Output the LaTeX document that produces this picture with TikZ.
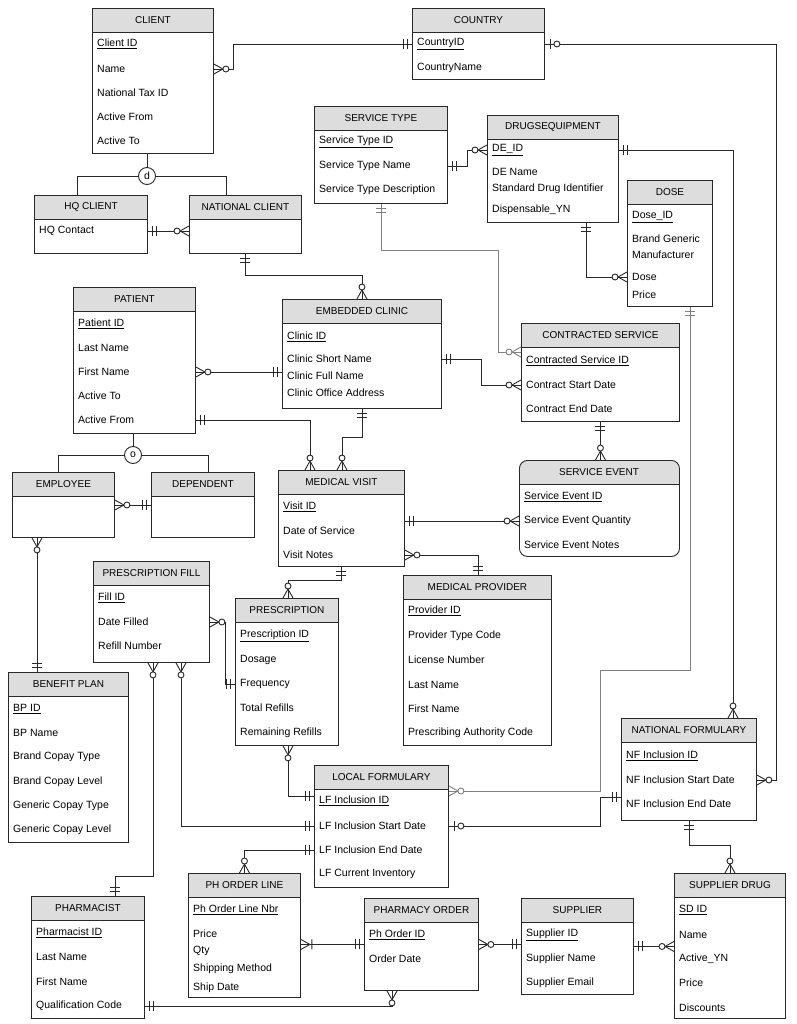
\documentclass[tikz,border=0pt]{standalone}
\usepackage{fontspec}
\setmainfont{Liberation Sans}
\usetikzlibrary{positioning,decorations.markings}
\definecolor{hdrgray}{RGB}{221,221,221}
\definecolor{linegray}{RGB}{40,40,40}

% crow's foot tips, drawn in a frame pointing away from the entity
\newcommand\tipOne{\draw (5pt,-5pt)--(5pt,5pt) (9pt,-5pt)--(9pt,5pt);}
\newcommand\tipZOne{\draw (6pt,-5pt)--(6pt,5pt); \draw[fill=white] (12pt,0) circle (3pt);}
\newcommand\tipZMany{\draw (0pt,-5pt)--(9pt,0pt)--(0pt,5pt); \draw[fill=white] (12pt,0) circle (3pt);}
\newcommand\tipMany{\draw (0pt,-5pt)--(9pt,0pt)--(0pt,5pt) (11pt,-5pt)--(11pt,5pt);}

\tikzset{
  ebody/.style={draw=linegray,line width=0.9pt,anchor=north west,inner sep=0pt},
  ehead/.style={draw=linegray,line width=0.9pt,fill=hdrgray,anchor=north,inner sep=0pt,
    minimum height=24pt,font=\fontsize{10}{12}\selectfont},
  att/.style={anchor=west,inner sep=0pt,font=\fontsize{10.5}{12}\selectfont},
  sub/.style={draw=linegray,line width=0.9pt,circle,fill=white,inner sep=1.5pt,
    minimum size=17pt,font=\fontsize{10.5}{12}\selectfont},
  rel/.style={draw=linegray,line width=0.9pt},
  tip start/.style={postaction={decorate,decoration={markings,mark=at position 0 with {#1}}}},
  tip end/.style={postaction={decorate,decoration={markings,mark=at position 1 with {\pgftransformxscale{-1}#1}}}},
}
% name, left, top, width, height, title
\newcommand\entity[6]{%
  \node[ebody,minimum width=#4pt,minimum height=#5pt] (#1) at (#2,#3) {};
  \node[ehead,minimum width=#4pt] (#1h) at (#1.north) {#6};
}
\newcommand\attr[4]{\node[att] (#1) at (#2,#3) {#4};}

\begin{document}
\begin{tikzpicture}[x=1pt,y=-1pt]
\useasboundingbox (0,0) rectangle (796,1024);

% entities
\entity{client}{92}{8}{121}{145}{CLIENT}
\attr{cl1}{97}{44}{\underline{Client ID}}
\attr{cl2}{97}{69}{Name}
\attr{cl3}{97}{93}{National Tax ID}
\attr{cl4}{97}{117}{Active From}
\attr{cl5}{97}{141}{Active To}

\entity{country}{412}{8}{132}{71}{COUNTRY}
\attr{co1}{417}{44}{\underline{CountryID}}
\attr{co2}{417}{68}{CountryName}

\entity{st}{314}{106}{133}{97}{SERVICE TYPE}
\attr{st1}{319}{142}{\underline{Service Type ID}}
\attr{st2}{319}{166}{Service Type Name}
\attr{st3}{319}{190}{Service Type Description}

\entity{de}{487}{115}{131}{107}{DRUGSEQUIPMENT}
\attr{de1}{492}{150}{\underline{DE\_ID}}
\attr{de2}{492}{172}{DE Name}
\attr{de3}{492}{189}{Standard Drug Identifier}
\attr{de4}{492}{210}{Dispensable\_YN}

\entity{dose}{627}{180}{85}{126}{DOSE}
\attr{do1}{632}{217}{\underline{Dose\_ID}}
\attr{do2}{632}{239}{Brand Generic}
\attr{do3}{632}{255}{Manufacturer}
\attr{do4}{632}{277}{Dose}
\attr{do5}{632}{295}{Price}

\entity{hq}{34}{195}{113}{58}{HQ CLIENT}
\attr{hq1}{39}{231}{HQ Contact}

\entity{nc}{189}{195}{112}{58}{NATIONAL CLIENT}

\entity{pat}{73}{287}{122}{146}{PATIENT}
\attr{pa1}{78}{324}{\underline{Patient ID}}
\attr{pa2}{78}{348}{Last Name}
\attr{pa3}{78}{372}{First Name}
\attr{pa4}{78}{396}{Active To}
\attr{pa5}{78}{420}{Active From}

\entity{ec}{282}{299}{159}{109}{EMBEDDED CLINIC}
\attr{ec1}{287}{337}{\underline{Clinic ID}}
\attr{ec2}{287}{359}{Clinic Short Name}
\attr{ec3}{287}{376}{Clinic Full Name}
\attr{ec4}{287}{393}{Clinic Office Address}

\entity{cs}{521}{323}{158}{98}{CONTRACTED SERVICE}
\attr{cs1}{526}{361}{\underline{Contracted Service ID}}
\attr{cs2}{526}{385}{Contract Start Date}
\attr{cs3}{526}{409}{Contract End Date}

% service event has rounded corners
\fill[hdrgray,rounded corners=8pt] (519,484) -- (519,460) -- (679,460) -- (679,484) [sharp corners] -- cycle;
\fill[hdrgray] (519,476) rectangle (679,484);
\node[ebody,minimum width=160pt,minimum height=96pt,rounded corners=8pt] (se) at (519,460) {};
\draw[rel] ([yshift=-24pt]se.north west) -- ([yshift=-24pt]se.north east);
\node[att,anchor=center,font=\fontsize{10}{12}\selectfont] (seh) at (599,472) {SERVICE EVENT};
\attr{se1}{524}{497}{\underline{Service Event ID}}
\attr{se2}{524}{521}{Service Event Quantity}
\attr{se3}{524}{545}{Service Event Notes}

\entity{emp}{12}{472}{102}{65}{EMPLOYEE}
\entity{dep}{151}{472}{103}{65}{DEPENDENT}

\entity{mv}{278}{470}{126}{96}{MEDICAL VISIT}
\attr{mv1}{283}{507}{\underline{Visit ID}}
\attr{mv2}{283}{531}{Date of Service}
\attr{mv3}{283}{555}{Visit Notes}

\entity{pf}{93}{561}{116}{101}{PRESCRIPTION FILL}
\attr{pf1}{98}{598}{\underline{Fill ID}}
\attr{pf2}{98}{622}{Date Filled}
\attr{pf3}{98}{646}{Refill Number}

\entity{pr}{235}{598}{103}{147}{PRESCRIPTION}
\attr{pr1}{240}{636}{\underline{Prescription ID}}
\attr{pr2}{240}{660}{Dosage}
\attr{pr3}{240}{684}{Frequency}
\attr{pr4}{240}{708}{Total Refills}
\attr{pr5}{240}{733}{Remaining Refills}

\entity{mp}{403}{575}{148}{170}{MEDICAL PROVIDER}
\attr{mp1}{408}{611}{\underline{Provider ID}}
\attr{mp2}{408}{636}{Provider Type Code}
\attr{mp3}{408}{660}{License Number}
\attr{mp4}{408}{685}{Last Name}
\attr{mp5}{408}{709}{First Name}
\attr{mp6}{408}{733}{Prescribing Authority Code}

\entity{bp}{8}{672}{120}{170}{BENEFIT PLAN}
\attr{bp1}{13}{709}{\underline{BP ID}}
\attr{bp2}{13}{733}{BP Name}
\attr{bp3}{13}{757}{Brand Copay Type}
\attr{bp4}{13}{782}{Brand Copay Level}
\attr{bp5}{13}{806}{Generic Copay Type}
\attr{bp6}{13}{830}{Generic Copay Level}

\entity{nf}{621}{718}{135}{102}{NATIONAL FORMULARY}
\attr{nf1}{626}{756}{\underline{NF Inclusion ID}}
\attr{nf2}{626}{780}{NF Inclusion Start Date}
\attr{nf3}{626}{804}{NF Inclusion End Date}

\entity{lf}{314}{765}{134}{122}{LOCAL FORMULARY}
\attr{lf1}{319}{801}{\underline{LF Inclusion ID}}
\attr{lf2}{319}{826}{LF Inclusion Start Date}
\attr{lf3}{319}{850}{LF Inclusion End Date}
\attr{lf4}{319}{874}{LF Current Inventory}

\entity{pol}{188}{873}{112}{124}{PH ORDER LINE}
\attr{pol1}{193}{910}{\underline{Ph Order Line Nbr}}
\attr{pol2}{193}{934}{Price}
\attr{pol3}{193}{951}{Qty}
\attr{pol4}{193}{969}{Shipping Method}
\attr{pol5}{193}{988}{Ship Date}

\entity{ph}{31}{896}{113}{122}{PHARMACIST}
\attr{ph1}{36}{933}{\underline{Pharmacist ID}}
\attr{ph2}{36}{957}{Last Name}
\attr{ph3}{36}{982}{First Name}
\attr{ph4}{36}{1006}{Qualification Code}

\entity{po}{364}{898}{114}{92}{PHARMACY ORDER}
\attr{po1}{369}{935}{\underline{Ph Order ID}}
\attr{po2}{369}{959}{Order Date}

\entity{sup}{521}{898}{112}{96}{SUPPLIER}
\attr{su1}{526}{935}{\underline{Supplier ID}}
\attr{su2}{526}{959}{Supplier Name}
\attr{su3}{526}{983}{Supplier Email}

\entity{sd}{674}{873}{111}{145}{SUPPLIER DRUG}
\attr{sd1}{679}{910}{\underline{SD ID}}
\attr{sd2}{679}{935}{Name}
\attr{sd3}{679}{959}{Active\_YN}
\attr{sd4}{679}{983}{Price}
\attr{sd5}{679}{1008}{Discounts}

% subtypes
\node[sub] (dsub) at (147,176) {d};
\draw[rel] (client.south -| dsub) -- (dsub.north);
\draw[rel] (dsub.west) -| ([xshift=43pt]hq.north west);
\draw[rel] (dsub.east) -| ([xshift=37pt]nc.north west);
\node[sub] (osub) at (133,455) {o};
\draw[rel] (pat.south -| osub) -- (osub.north);
\draw[rel] (osub.west) -| ([xshift=46pt]emp.north west);
\draw[rel] (osub.east) -| ([xshift=57pt]dep.north west);

% relationships
\draw[rel,tip start=\tipZMany,tip end=\tipOne] (client.east |- cl2) -- ++(20,0) |- (country.west |- co1);
\draw[rel,tip start=\tipZOne,tip end=\tipZMany] (country.east |- co1) -- ++(232,0) |- (nf.east |- nf2);
\draw[rel,tip start=\tipOne,tip end=\tipZMany] (st.east |- st2) -- ++(20,0) |- (de.west |- de1);
\draw[rel,tip start=\tipOne,tip end=\tipZMany] ([xshift=99pt]de.south west) |- (dose.west |- do4);
\draw[rel,tip start=\tipOne,tip end=\tipZMany] (de.east |- de1) -| ([xshift=112pt]nf.north west);
\draw[rel,draw=gray,tip start=\tipOne,tip end=\tipZMany] (st.south) -- ++(0,47) -| ([xshift=-23pt,yshift=-29pt]cs.north west) -- ([yshift=-29pt]cs.north west);
\draw[rel,draw=gray,tip start=\tipOne,tip end=\tipZMany] ([xshift=63pt]dose.south west) |- ++(-90,364) |- ([yshift=-26pt]lf.north east);
\draw[rel,tip start=\tipOne,tip end=\tipZMany] (hq.east |- hq1) -- (nc.west |- hq1);
\draw[rel,tip start=\tipOne,tip end=\tipZMany] (nc.south) -- ++(0,22) -| (ec.north);
\draw[rel,tip start=\tipZMany,tip end=\tipOne] (pat.east |- pa3) -- (ec.west |- pa3);
\draw[rel,tip start=\tipOne,tip end=\tipZMany] (ec.east |- ec2) -- ++(40,0) |- (cs.west |- cs2);
\draw[rel,tip start=\tipOne,tip end=\tipZMany] (cs.south) -- (se.north -| cs.south);
\draw[rel,tip start=\tipOne,tip end=\tipZMany] (pat.east |- pa5) -| ([xshift=32pt]mv.north west);
\draw[rel,tip start=\tipOne,tip end=\tipZMany] (ec.south) -- ++(0,29) -| ([xshift=64pt]mv.north west);
\draw[rel,tip start=\tipOne,tip end=\tipZMany] (mv.east |- se2) -- (se.west |- se2);
\draw[rel,tip start=\tipZMany,tip end=\tipOne] (mv.east |- mv3) -| ([xshift=75pt]mp.north west);
\draw[rel,tip start=\tipZMany,tip end=\tipOne] ([yshift=-33pt]emp.north east) -- ([yshift=-33pt]dep.north west);
\draw[rel,tip start=\tipZMany,tip end=\tipOne] ([xshift=25pt]emp.south west) -- ([xshift=29pt]bp.north west);
\draw[rel,tip start=\tipOne,tip end=\tipZMany] (mv.south) -- ++(0,14) -| ([xshift=53pt]pr.north west);
\draw[rel,tip start=\tipZMany,tip end=\tipOne] (pf.east |- pf2) -- ++(16,0) |- (pr.west |- pr3);
\draw[rel,tip start=\tipZMany,tip end=\tipOne] ([xshift=60pt]pf.south west) -- ++(0,214) -| ([xshift=84pt]ph.north west);
\draw[rel,tip start=\tipZMany,tip end=\tipOne] ([xshift=88pt]pf.south west) |- (lf.west |- lf2);
\draw[rel,tip start=\tipZMany,tip end=\tipOne] ([xshift=53pt]pr.south west) |- ([yshift=-31pt]lf.north west);
\draw[rel,tip start=\tipZOne,tip end=\tipOne] (lf.east |- lf2) -- ++(152,0) |- ([yshift=-79pt]nf.north west);
\draw[rel,tip start=\tipOne,tip end=\tipZMany] (lf.west |- lf3) -| (pol.north);
\draw[rel,tip start=\tipOne,tip end=\tipZMany] (nf.south) -- ++(0,25) -| (sd.north);
\draw[rel,tip start=\tipMany,tip end=\tipOne] (pol.east |- po.west) -- (po.west);
\draw[rel,tip start=\tipZMany,tip end=\tipOne] (po.east) -- (sup.west |- po.east);
\draw[rel,tip start=\tipOne,tip end=\tipZMany] (sup.east) -- (sd.west |- sup.east);
\draw[rel,tip start=\tipOne,tip end=\tipZMany] (ph.east |- ph4) -| ([xshift=28pt]po.south west);
\end{tikzpicture}
\end{document}
